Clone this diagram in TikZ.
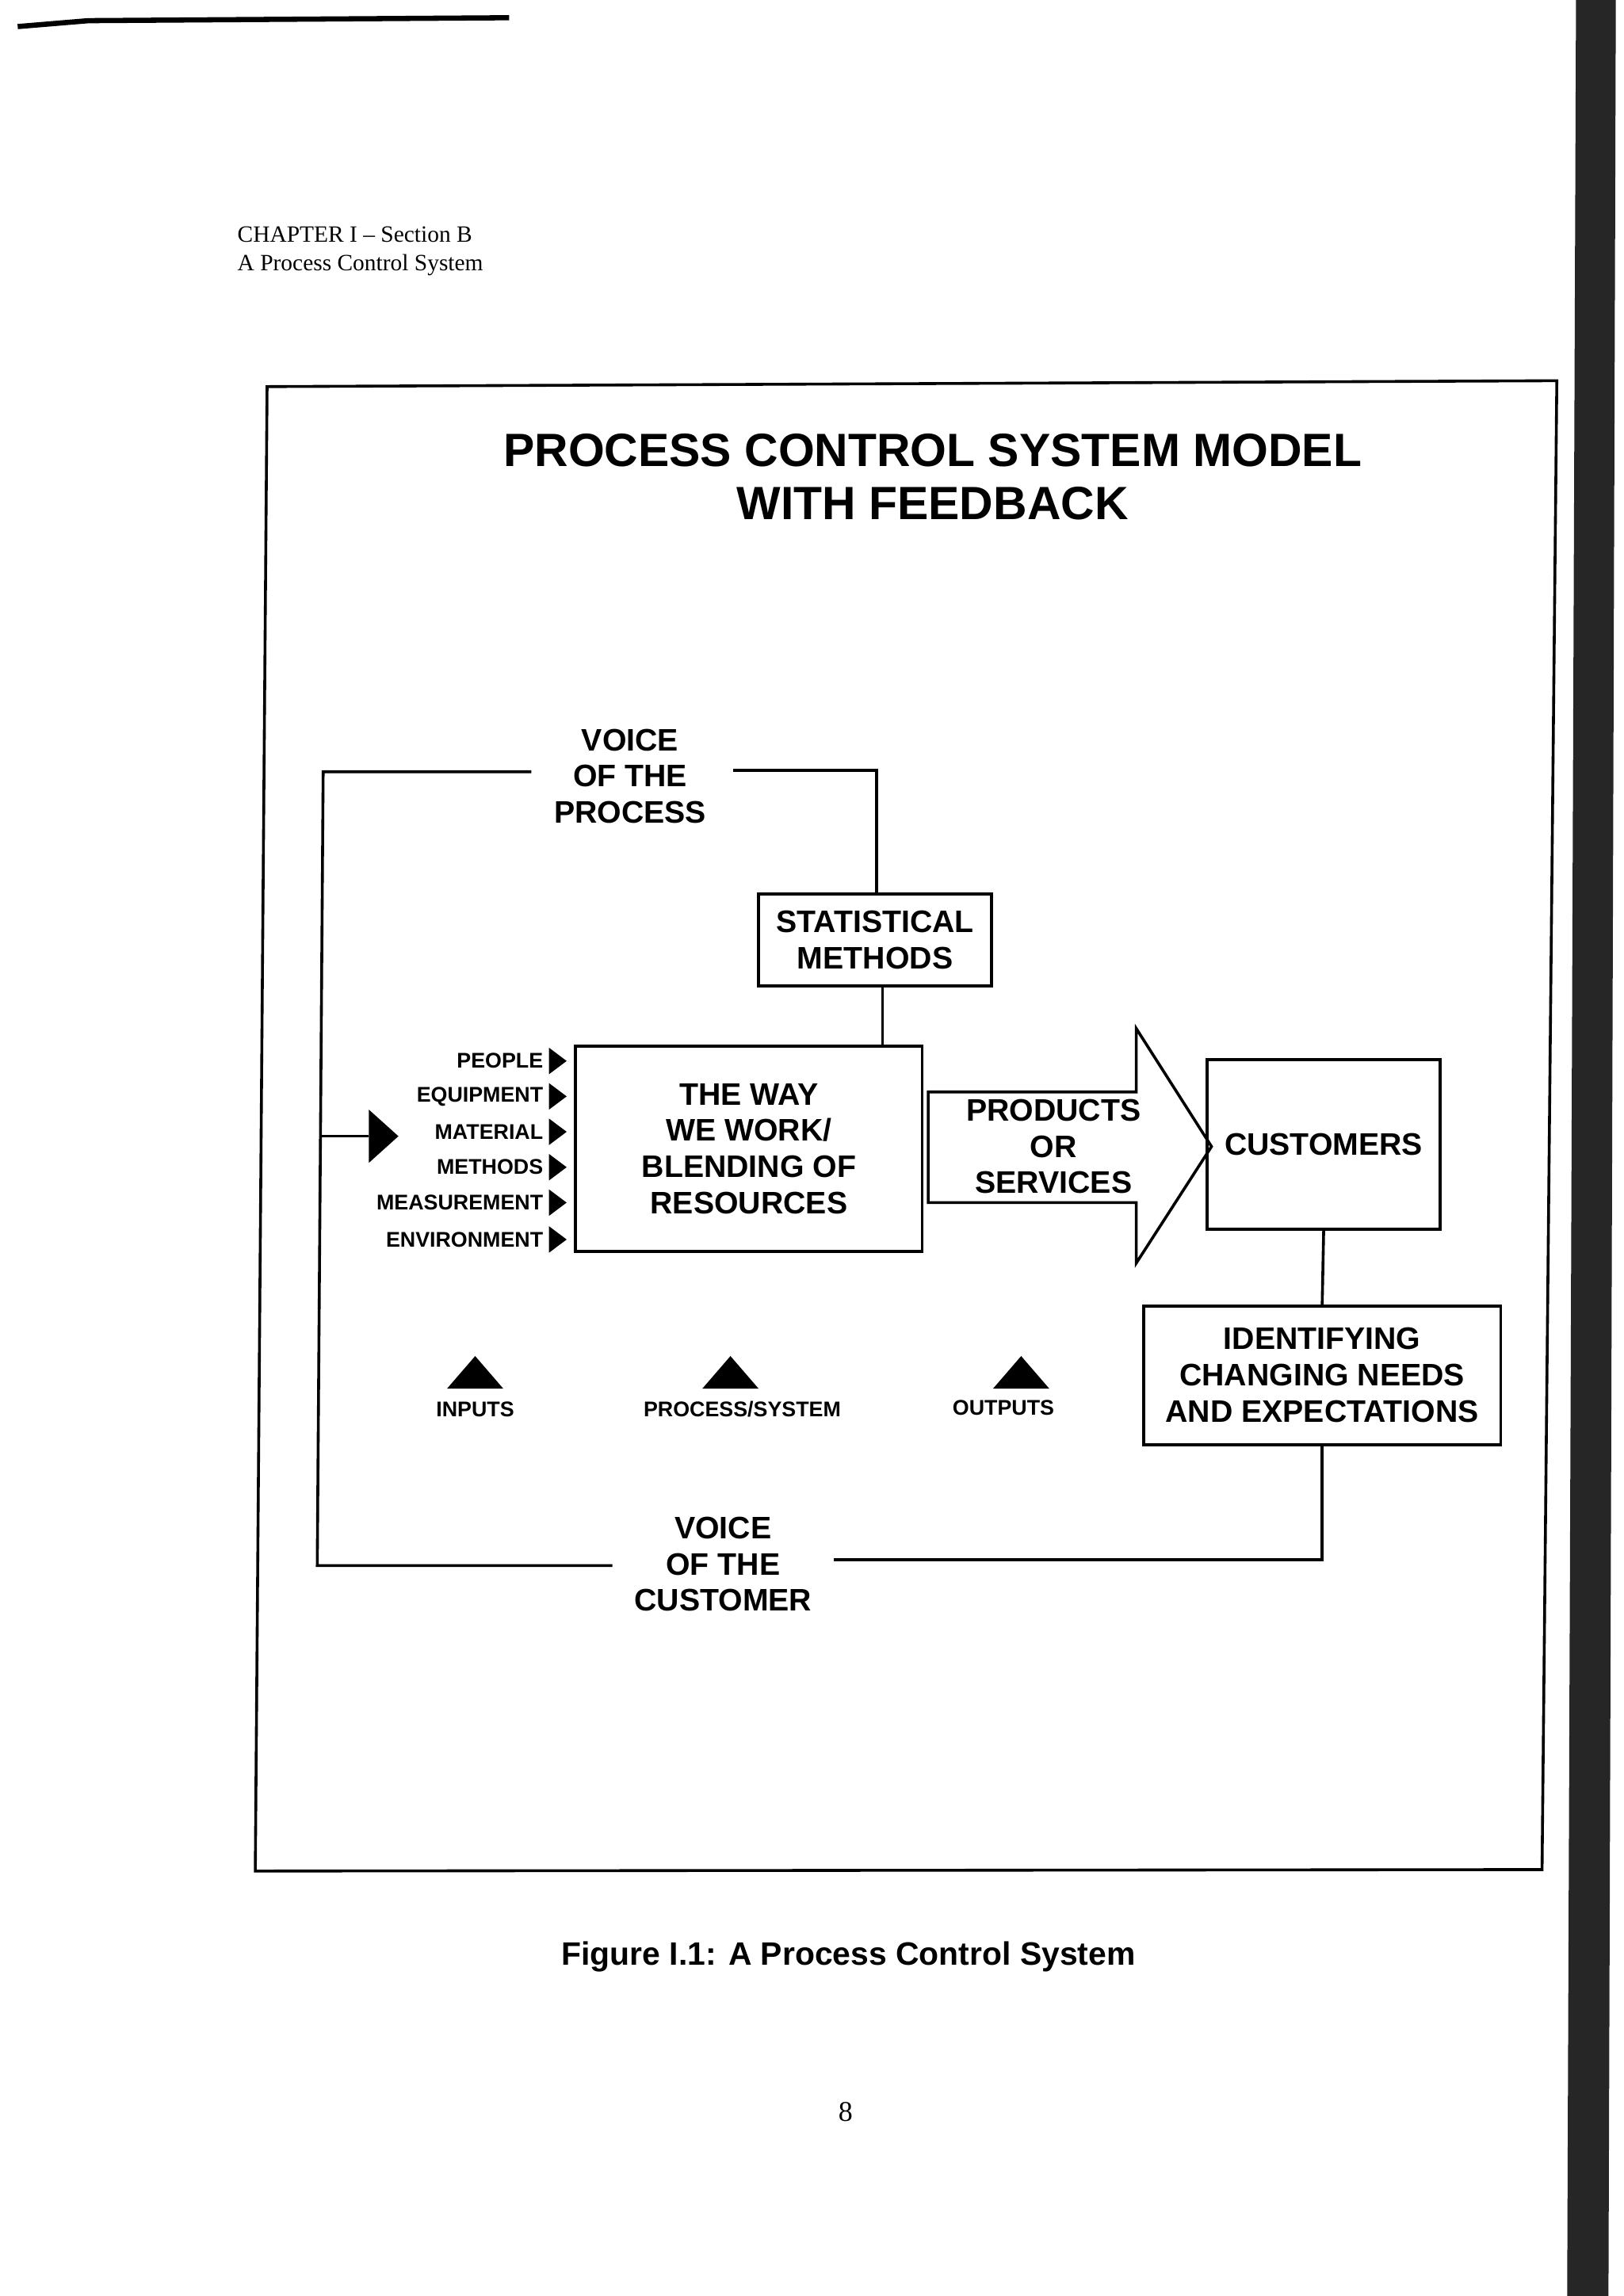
\documentclass[tikz,border=0pt]{standalone}
\usepackage{fontspec}
\setmainfont{Liberation Sans}
\newfontfamily\serifa{Liberation Serif}
\begin{document}
\begin{tikzpicture}[x=0.02cm,y=-0.02cm,line width=1.1pt,
  bx/.style={draw,line width=1.1pt},
  txt/.style={font=\fontsize{12}{14}\selectfont\bfseries,align=center,inner sep=0},
  sml/.style={font=\fontsize{8.2}{10}\selectfont\bfseries,inner sep=0},
  tri/.style={fill=black,draw=none}]
\useasboundingbox (0,0) rectangle (1100,1556);
\fill[black!85] (1068,0) -- (1095,0) -- (1090,1556) -- (1062,1556) -- cycle;
\draw[line width=2pt] (12,18) -- (60,14) -- (345,12);
\node[anchor=west,inner sep=0,font=\serifa\fontsize{9}{11}\selectfont,align=left] (hdr) at (160,170) {CHAPTER I – Section B\\A Process Control System};
\draw (181,262) -- (1055,258) -- (1045,1267) -- (173,1268) -- cycle;
\node[txt,font=\fontsize{18}{20.5}\selectfont\bfseries] (title) at (632,323) {PROCESS CONTROL SYSTEM MODEL\\WITH FEEDBACK};
\node[txt] (vop) at (427,526) {VOICE\\OF THE\\PROCESS};
\node[bx,txt,minimum width=158*0.02cm,minimum height=62*0.02cm] (stat) at (593,637) {STATISTICAL\\METHODS};
\node[bx,txt,minimum width=235*0.02cm,minimum height=139*0.02cm] (way) at (507.5,778.5) {THE WAY\\WE WORK/\\BLENDING OF\\RESOURCES};
\node[bx,txt,minimum width=158*0.02cm,minimum height=115*0.02cm] (cust) at (897,775.5) {CUSTOMERS};
\node[bx,txt,minimum width=242*0.02cm,minimum height=94*0.02cm] (ident) at (896,932) {IDENTIFYING\\CHANGING NEEDS\\AND EXPECTATIONS};
\node[txt] (voc) at (490,1060) {VOICE\\OF THE\\CUSTOMER};
\draw (360,523) -- (219,523) coordinate (tl) -- (215,1061) coordinate (bl) -- (415,1061);
\draw (497,522) -- (594,522) -- (stat.north -| 594,0);
\draw (stat.south -| 598,0) -- (way.north -| 598,0);
\draw (cust.south) -- (ident.north);
\draw (ident.south) -- (896,1057) -- (565,1057);
\coordinate (ain) at (217,770);
\draw (ain) -- (250,770);
\fill (250,752) -- (270,770) -- (250,788) -- cycle;
\foreach \t/\y in {PEOPLE/719,EQUIPMENT/743,MATERIAL/767,METHODS/791,MEASUREMENT/815,ENVIRONMENT/840}{
  \node[sml,anchor=east] (in\t) at (369,\y) {\t};
  \fill (372,\y-9) -- (384,\y) -- (372,\y+9) -- cycle;}
\draw (629,740) -- (770,740) -- (770,697) -- (821,777) -- (770,856) -- (770,815) -- (629,815) -- cycle;
\node[txt] (prod) at (714,777) {PRODUCTS\\OR\\SERVICES};
\foreach \x/\n in {322/a,495/b,692/c}{\fill (\x-19,941) -- (\x,919) -- (\x+19,941) -- cycle;}
\node[sml] (li) at (322,955) {INPUTS};
\node[sml] (lp) at (503,955) {PROCESS/SYSTEM};
\node[sml] (lo) at (680,954) {OUTPUTS};
\node[txt,font=\fontsize{12.5}{15}\selectfont\bfseries] (cap) at (575,1326) {Figure I.1: A Process Control System};
\node[font=\serifa\fontsize{11}{13}\selectfont,inner sep=0] (pg) at (573,1431) {8};
\end{tikzpicture}
\end{document}
